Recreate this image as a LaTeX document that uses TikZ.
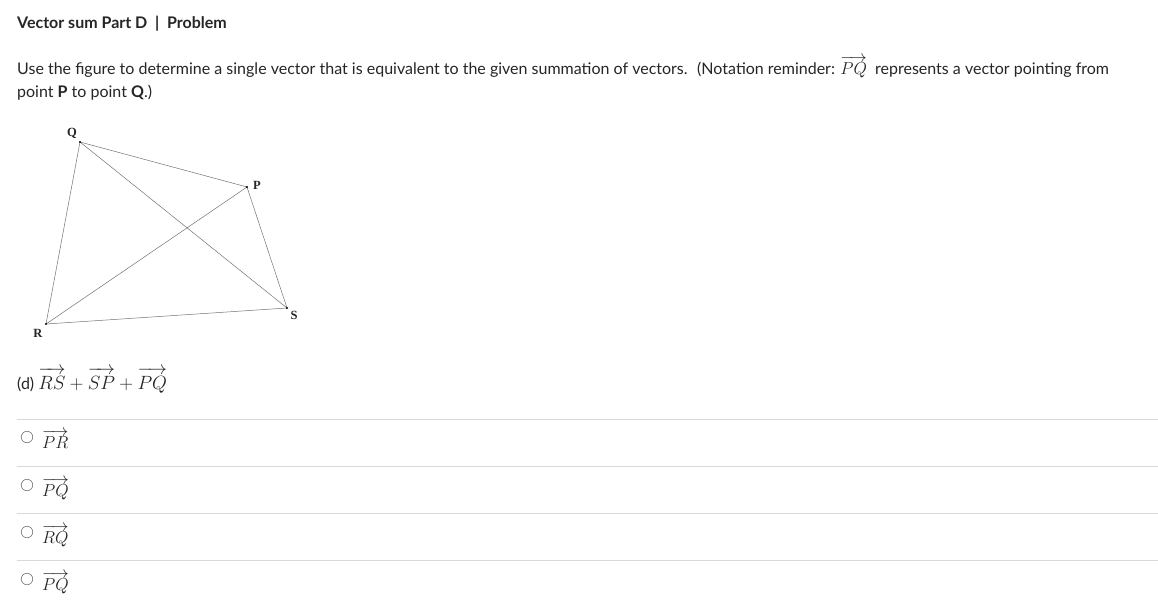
\documentclass[tikz,border=0pt]{standalone}
\usepackage{graphicx}
\usepackage{fontspec}
\setmainfont{Lato}
\newfontfamily\figfont{Liberation Serif}
\newcommand{\vecbar}[1]{\overrightarrow{\rule{0pt}{0.8em}#1}}
\begin{document}
\begin{tikzpicture}[x=1pt, y=-1pt, line join=round, line cap=round,
    txt/.style={anchor=base west, inner sep=0pt, font=\fontsize{16}{18}\selectfont, text=black!85},
    lbl/.style={inner sep=0pt, font=\figfont\fontsize{12.5}{14}\selectfont\bfseries, text=black!85},
    edge/.style={black!55, line width=0.5pt},
    sepline/.style={black!15, line width=0.8pt},
    radio/.style={draw=black!55, circle, minimum size=11.5pt, inner sep=0pt, line width=0.6pt}]

    % page
    \useasboundingbox[fill=white] (0,0) rectangle (1158,613);

    % heading and question
    \node[txt, font=\fontsize{16}{18}\selectfont\bfseries] (title) at (17,28) {Vector sum Part D \ | \ Problem};
    \node[txt] (line1) at (17,74) {Use the figure to determine a single vector that is equivalent to the given summation of vectors. \ (Notation reminder: $\vecbar{PQ}$\ \ represents a vector pointing from};
    \node[txt] (line2) at (17,97) {point \textbf{P} to point \textbf{Q}.)};

    % figure points
    \coordinate (Q) at (80,142);
    \coordinate (P) at (247,187);
    \coordinate (S) at (287,308);
    \coordinate (R) at (46,324);

    % quadrilateral edges and diagonals
    \draw[edge] (Q) -- (P) -- (S) -- (R) -- cycle;
    \draw[edge] (Q) -- (S);
    \draw[edge] (R) -- (P);

    % vertices
    \foreach \v in {Q, P, S, R} {
        \fill (\v) circle (1.2);
    }

    % vertex labels
    \node[lbl] (labQ) at (72,133) {Q};
    \node[lbl] (labP) at (257,185) {P};
    \node[lbl] (labS) at (294,315) {S};
    \node[lbl] (labR) at (38,333) {R};

    % the sum
    \node[txt] (sum) at (17,389) {(d) \scalebox{1.11}{\fontsize{17.28}{20}\selectfont$\vecbar{RS}+\vecbar{SP}+\vecbar{PQ}$}};

    % separators
    \foreach \y in {419, 466, 513, 560} {
        \draw[sepline] (17,\y) -- (1158,\y);
    }

    % choices
    \foreach \i/\y/\ans in {1/437/PR, 2/485/PQ, 3/532/RQ, 4/579/PQ} {
        \node[radio] (radio\i) at (27,\y) {};
        \node[txt, font=\fontsize{16}{18}\selectfont] (choice\i) at (42,\y+11) {$\vecbar{\ans}$};
    }
\end{tikzpicture}
\end{document}
